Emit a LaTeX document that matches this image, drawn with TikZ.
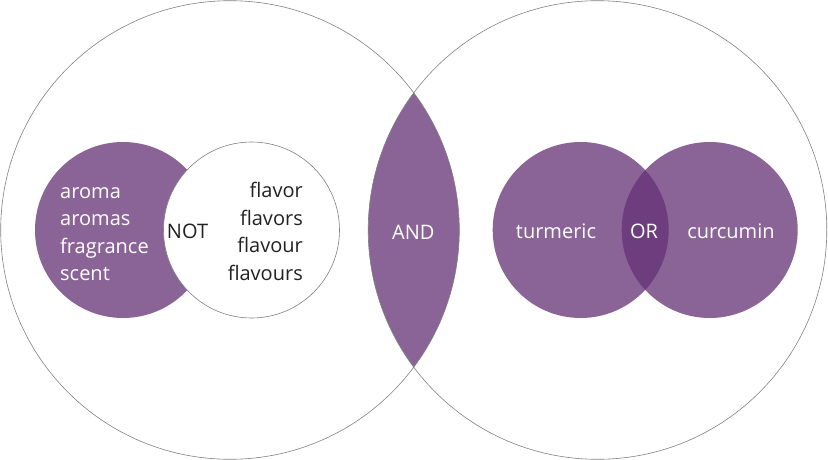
\documentclass[tikz,border=0pt]{standalone}
\usepackage{fontspec}
\setmainfont{Open Sans}
\definecolor{morado}{HTML}{8A6496}
\definecolor{moradoosc}{HTML}{6E3D7E}
\definecolor{borde}{HTML}{808080}
\definecolor{texto}{HTML}{222222}
\begin{document}
\begin{tikzpicture}[x=1pt,y=-1pt,
        aro/.style={draw=borde,line width=0.6pt},
        relleno/.style={fill=morado},
        letra/.style={inner sep=0pt,font=\fontsize{20}{27.5}\selectfont},
        blanco/.style={letra,text=white},
        negro/.style={letra,text=texto}]
    \useasboundingbox (0,0) rectangle (828,460);
    % Interseccion AND
    \begin{scope}
        \clip (230,230) circle[radius=229.3pt];
        \fill[relleno] (597.5,230) circle[radius=229.3pt];
    \end{scope}
    % Circulos grandes
    \draw[aro] (230,230) circle[radius=229.3pt];
    \draw[aro] (597.5,230) circle[radius=229.3pt];
    % Circulos NOT
    \fill[relleno] (123,230) circle[radius=88pt];
    \filldraw[aro,fill=white] (251.5,230) circle[radius=88pt];
    % Circulos OR
    \fill[relleno] (580.7,230) circle[radius=88pt];
    \fill[relleno] (709.7,230) circle[radius=88pt];
    \begin{scope}
        \clip (580.7,230) circle[radius=88pt];
        \fill[moradoosc] (709.7,230) circle[radius=88pt];
    \end{scope}
    % Textos
    \node[blanco,align=left,anchor=west] (aroma) at (60,233.9) {aroma\\aromas\\fragrance\\scent};
    \node[negro,align=right,anchor=east] (flavor) at (303,231.6) {flavor\\flavors\\flavour\\flavours};
    \node[negro,anchor=base] (not) at (187.5,238.3) {NOT};
    \node[blanco,anchor=base] (and) at (413.3,239) {AND};
    \node[blanco,anchor=base] (turmeric) at (556,238.3) {turmeric};
    \node[blanco,anchor=base] (or) at (644,238.3) {OR};
    \node[blanco,anchor=base] (curcumin) at (731,238.3) {curcumin};
\end{tikzpicture}
\end{document}
